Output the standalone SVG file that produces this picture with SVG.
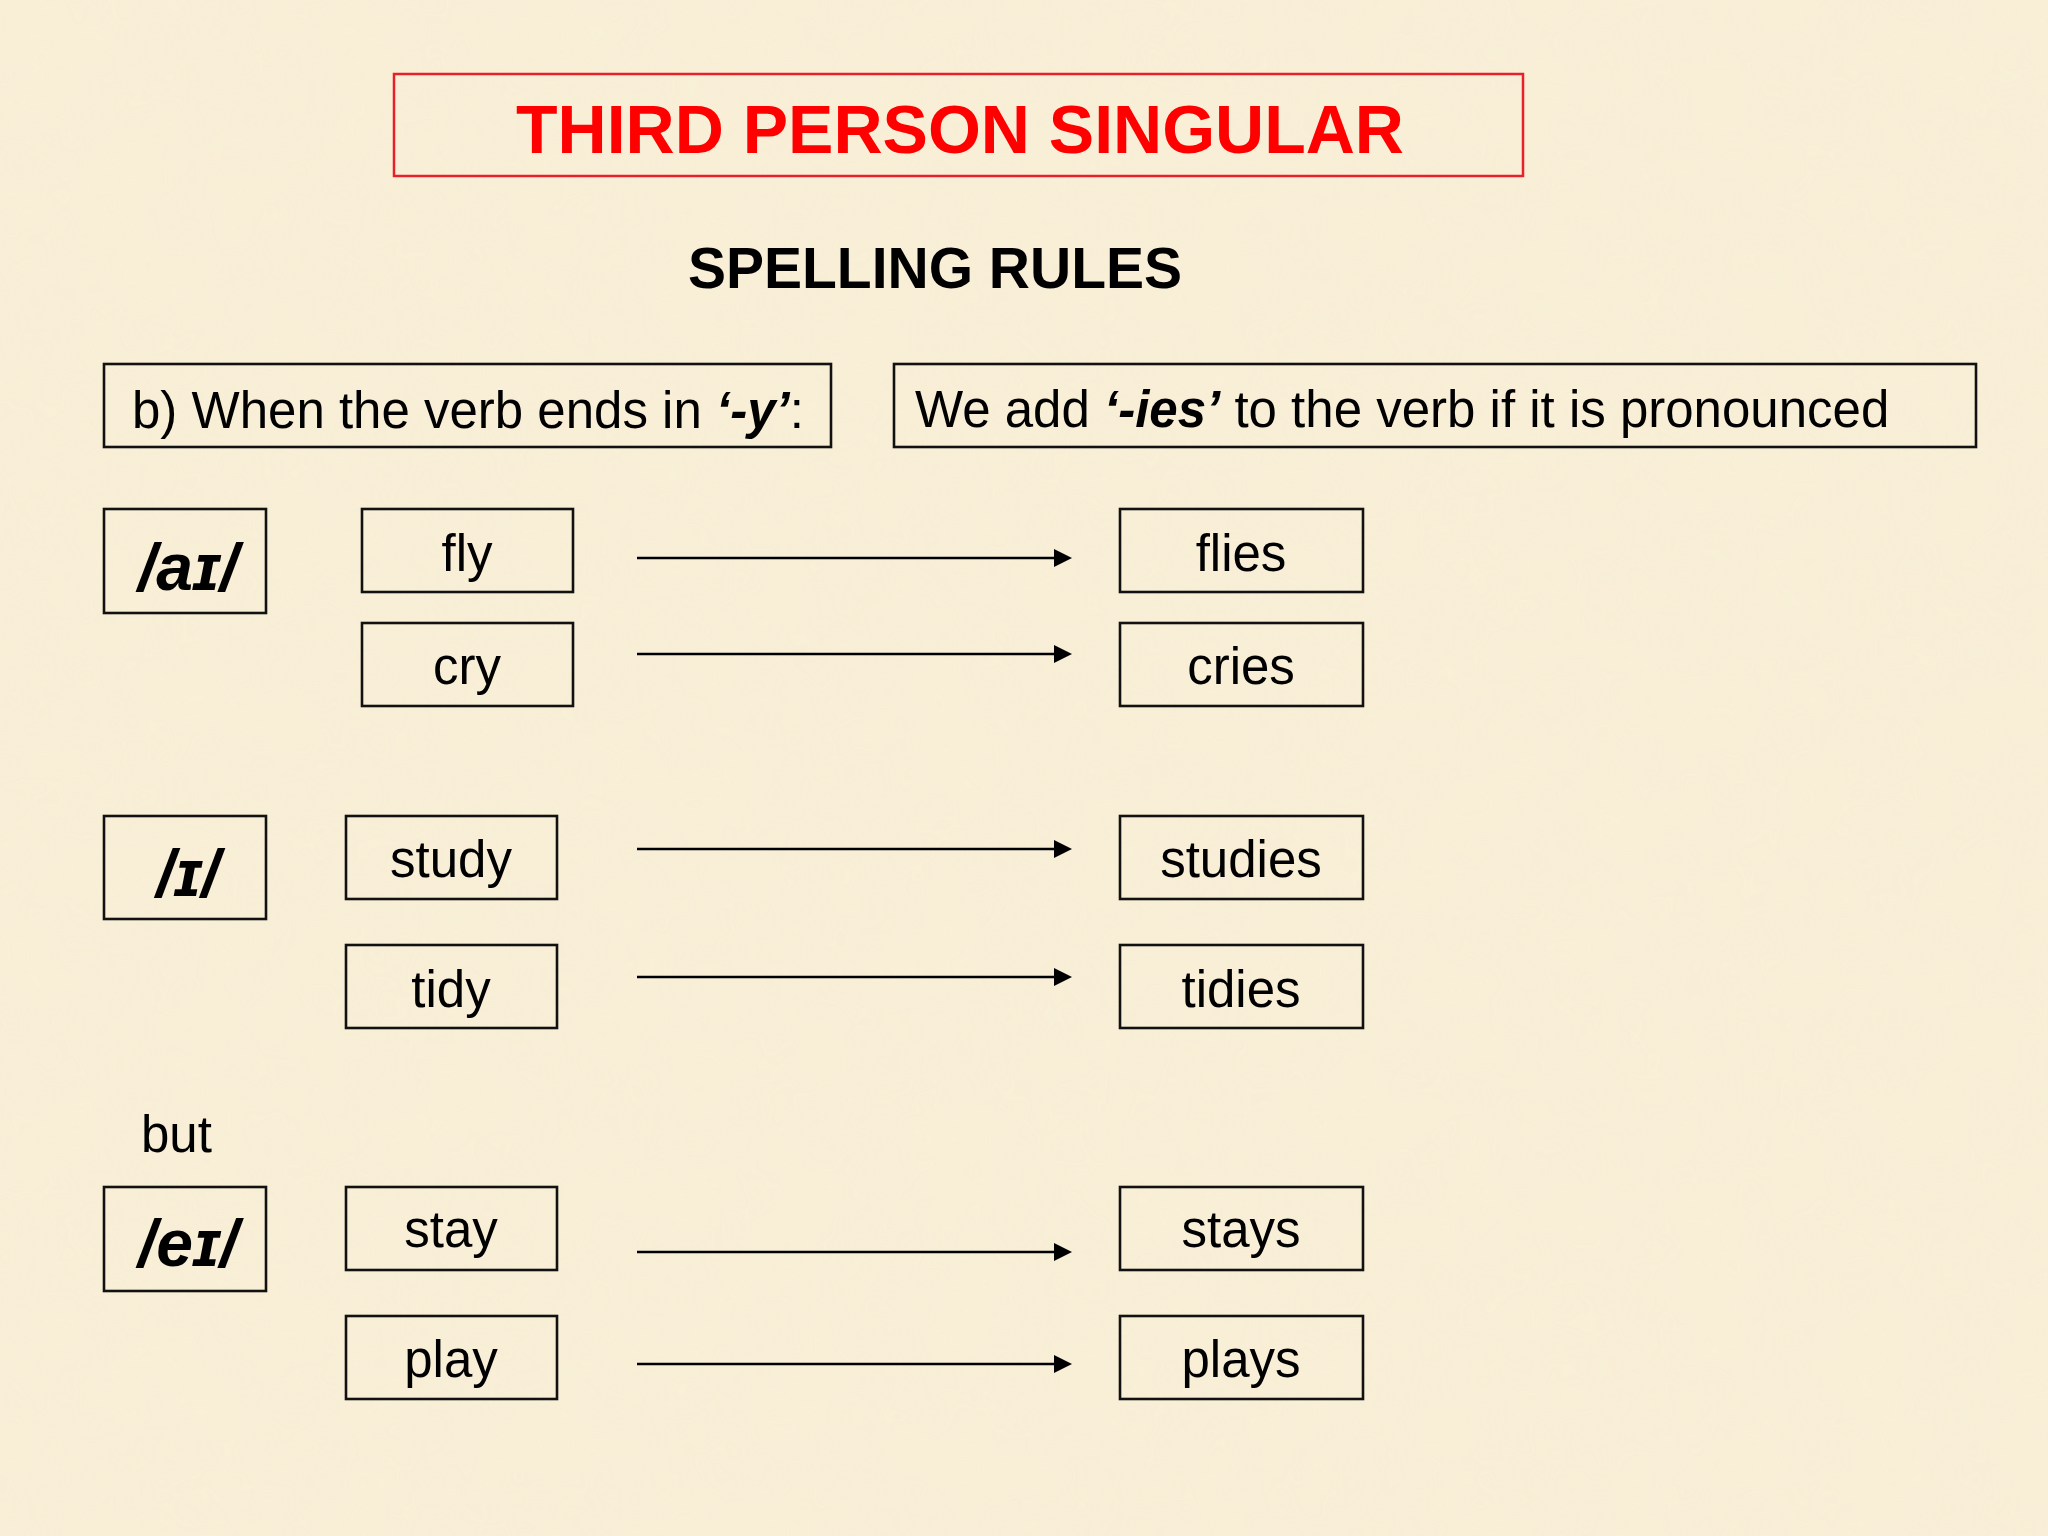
<svg xmlns="http://www.w3.org/2000/svg" width="2048" height="1536" viewBox="0 0 2048 1536">
<style>
.box{fill:none;stroke:#111;stroke-width:2.6}
.t{font-family:"Liberation Sans",Arial,sans-serif;font-size:51px;fill:#000}
.c{text-anchor:middle}
.ph{font-family:"Liberation Sans","DejaVu Sans",Arial,sans-serif;font-size:66px;font-weight:bold;font-style:italic;fill:#000;text-anchor:middle}
.bi{font-weight:bold;font-style:italic}
.arr{stroke:#000;stroke-width:2.6;fill:none;marker-end:url(#ah)}
</style>
<defs>
<marker id="ah" viewBox="0 0 18 18" refX="0" refY="9" markerWidth="18" markerHeight="18" markerUnits="userSpaceOnUse" orient="auto">
<path d="M0,0 L18,9 L0,18 z" fill="#000"/>
</marker>
<filter id="tex" x="0" y="0" width="100%" height="100%">
<feTurbulence type="fractalNoise" baseFrequency="0.012" numOctaves="3" seed="4" result="n"/>
<feColorMatrix in="n" type="matrix" values="0 0 0 0 0.92  0 0 0 0 0.85  0 0 0 0 0.68  0 0 0 0.45 0"/>
</filter>
</defs>
<rect width="2048" height="1536" fill="#F9EFD7"/>
<rect width="2048" height="1536" filter="url(#tex)" opacity="0.7"/>

<g id="title">
<rect x="394" y="74" width="1129" height="102" fill="none" stroke="#E8202A" stroke-width="2.5"/>
<text x="960" y="153" font-family="'Liberation Sans',Arial,sans-serif" font-size="68" font-weight="bold" fill="#F00" text-anchor="middle">THIRD PERSON SINGULAR</text>
</g>
<g id="subtitle">
<text x="935" y="288" font-family="'Liberation Sans',Arial,sans-serif" font-size="57" font-weight="bold" fill="#000" text-anchor="middle">SPELLING RULES</text>
</g>
<g id="rule-b">
<rect class="box" x="104" y="364" width="727" height="83"/>
<text class="t" x="132" y="428">b) When the verb ends in <tspan class="bi">‘-y’</tspan>:</text>
</g>
<g id="rule-add">
<rect class="box" x="894" y="364" width="1082" height="83"/>
<text class="t" x="915" y="427">We add <tspan class="bi">‘-ies’</tspan> to the verb if it is pronounced</text>
</g>

<g id="ph-ai">
<rect class="box" x="104" y="509" width="162" height="104"/>
<text class="ph" x="188" y="590">/aɪ/</text>
</g>
<g id="fly">
<rect class="box" x="362" y="509" width="211" height="83"/>
<text class="t c" x="467" y="571">fly</text>
</g>
<g id="cry">
<rect class="box" x="362" y="623" width="211" height="83"/>
<text class="t c" x="467" y="684">cry</text>
</g>
<g id="flies">
<rect class="box" x="1120" y="509" width="243" height="83"/>
<text class="t c" x="1241" y="571">flies</text>
</g>
<g id="cries">
<rect class="box" x="1120" y="623" width="243" height="83"/>
<text class="t c" x="1241" y="684">cries</text>
</g>

<g id="ph-i">
<rect class="box" x="104" y="816" width="162" height="103"/>
<text class="ph" x="188" y="896">/ɪ/</text>
</g>
<g id="study">
<rect class="box" x="346" y="816" width="211" height="83"/>
<text class="t c" x="451" y="877">study</text>
</g>
<g id="tidy">
<rect class="box" x="346" y="945" width="211" height="83"/>
<text class="t c" x="451" y="1007">tidy</text>
</g>
<g id="studies">
<rect class="box" x="1120" y="816" width="243" height="83"/>
<text class="t c" x="1241" y="877">studies</text>
</g>
<g id="tidies">
<rect class="box" x="1120" y="945" width="243" height="83"/>
<text class="t c" x="1241" y="1007">tidies</text>
</g>

<g id="but">
<text class="t" x="141" y="1152">but</text>
</g>
<g id="ph-ei">
<rect class="box" x="104" y="1187" width="162" height="104"/>
<text class="ph" x="188" y="1266">/eɪ/</text>
</g>
<g id="stay">
<rect class="box" x="346" y="1187" width="211" height="83"/>
<text class="t c" x="451" y="1247">stay</text>
</g>
<g id="play">
<rect class="box" x="346" y="1316" width="211" height="83"/>
<text class="t c" x="451" y="1377">play</text>
</g>
<g id="stays">
<rect class="box" x="1120" y="1187" width="243" height="83"/>
<text class="t c" x="1241" y="1247">stays</text>
</g>
<g id="plays">
<rect class="box" x="1120" y="1316" width="243" height="83"/>
<text class="t c" x="1241" y="1377">plays</text>
</g>

<g id="connectors">
<line class="arr" x1="637" y1="558" x2="1054" y2="558"/>
<line class="arr" x1="637" y1="654" x2="1054" y2="654"/>
<line class="arr" x1="637" y1="849" x2="1054" y2="849"/>
<line class="arr" x1="637" y1="977" x2="1054" y2="977"/>
<line class="arr" x1="637" y1="1252" x2="1054" y2="1252"/>
<line class="arr" x1="637" y1="1364" x2="1054" y2="1364"/>
</g>
</svg>
